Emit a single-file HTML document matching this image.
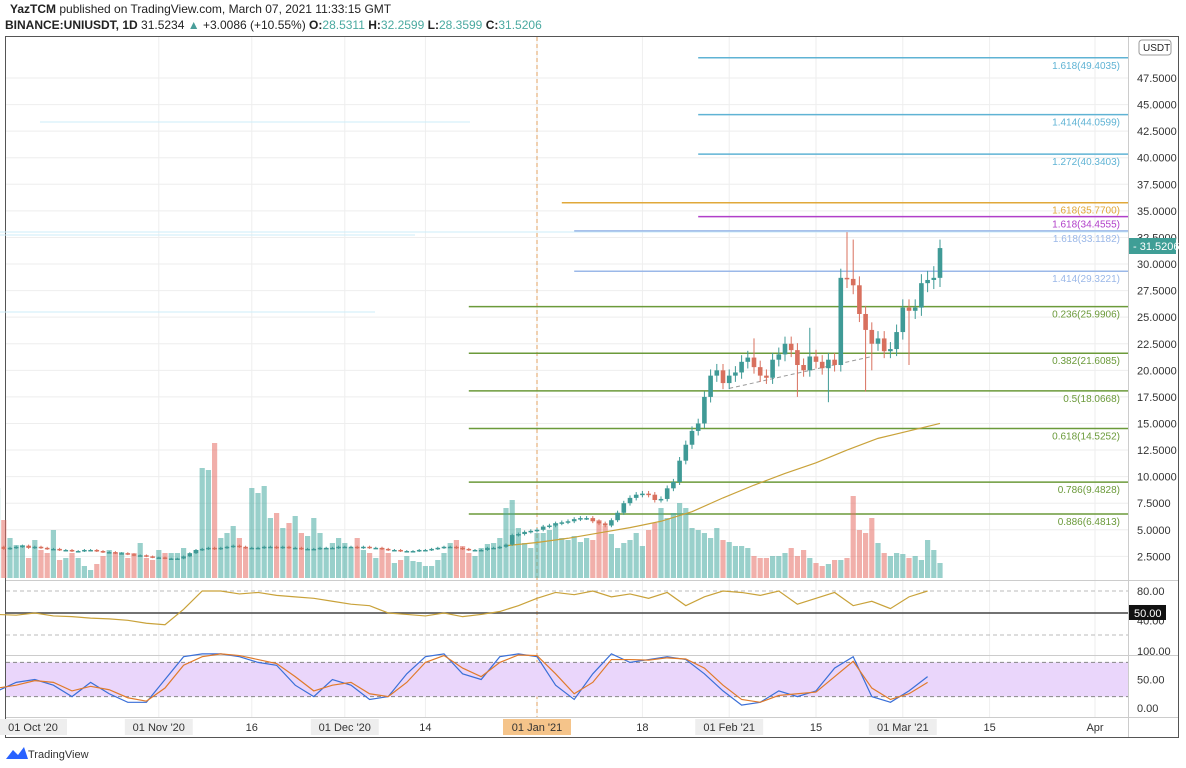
<!DOCTYPE html>
<html><head><meta charset="utf-8"><style>
body{margin:0;background:#fff;width:1186px;height:768px;overflow:hidden;font-family:"Liberation Sans",sans-serif}
svg{position:absolute;left:0;top:0}
</style></head><body>
<svg id="c" width="1186" height="768"></svg>
<script>
// ---- data ----
const closes=[3.4,3.2,3.3,3.4,3.5,3.3,3.4,3.3,3.2,3.2,3.1,3.1,3.0,3.0,3.1,3.1,3.0,2.9,2.9,2.8,2.8,2.7,2.6,2.6,2.5,2.4,
2.4,2.3,2.3,2.3,2.5,2.8,3.1,3.2,3.3,3.2,3.3,3.4,3.5,3.4,3.3,3.3,3.3,3.4,3.4,3.3,3.4,3.3,3.3,3.2,3.2,3.2,3.3,3.3,3.3,3.4,
3.4,3.4,3.3,3.4,3.3,3.3,3.2,3.1,3.1,3.0,3.0,3.0,3.1,3.1,3.2,3.3,3.4,3.4,3.3,3.2,3.1,3.1,3.1,3.3,3.3,3.4,3.6,4.5,4.6,4.8,4.9,
5.0,5.3,5.4,5.6,5.7,5.8,6.0,6.1,6.1,5.8,5.6,5.4,5.9,6.6,7.5,8.0,8.3,8.4,8.3,7.8,7.9,8.9,9.5,11.5,13.0,14.3,15.0,17.5,19.5,20.0,18.8,
19.5,19.8,20.8,21.2,20.3,19.5,19.3,21.0,21.5,22.5,21.9,20.5,20.0,21.3,20.8,20.2,21.0,20.5,28.7,28.6,28.0,25.3,23.8,22.5,23.0,21.8,22.0,23.6,
25.9,25.6,25.9,28.2,28.5,28.7,31.5];
const volumes=[90,58,40,33,33,20,38,28,25,48,18,20,25,20,12,8,14,22,28,25,26,20,25,35,20,18,
28,25,25,25,30,22,28,110,108,135,40,45,52,40,30,90,85,92,60,65,50,55,62,45,42,60,45,30,35,40,
35,30,40,28,25,20,30,25,15,18,22,17,16,12,12,18,25,35,38,32,25,22,30,34,35,40,70,78,50,35,30,
45,45,48,55,40,38,42,36,40,38,58,52,44,30,35,38,45,32,48,55,70,60,65,75,70,50,48,45,40,50,38,
36,32,32,30,22,20,20,22,22,25,30,22,28,20,15,12,14,18,18,20,82,48,45,60,35,25,22,25,
24,20,22,18,38,28,15];
const wickHighIdx=[137,138,122,131,152,151];
const wickHighVal=[33.0,32.3,23.0,24.0,32.3,29.8];
const wickLowIdx=[134,140,141,129,147];
const wickLowVal=[17.0,18.0,20.0,17.5,20.5];
const rsi=[48,47,50,46,45,43,42,40,36,34,55,80,80,76,78,74,72,70,66,62,60,50,48,46,50,45,48,52,60,70,78,75,80,72,76,70,78,60,72,80,78,74,80,62,70,78,60,66,56,72,80];
const stochK=[30,45,50,40,20,45,25,10,10,50,90,95,95,90,80,75,40,20,50,40,15,20,60,90,95,60,50,90,95,90,40,15,60,95,80,85,90,85,60,30,5,10,30,20,30,70,90,20,10,30,55];
const stochD=[35,40,48,45,30,38,32,18,12,35,75,90,95,92,85,78,55,30,40,45,25,20,45,80,92,70,55,80,93,92,60,25,45,85,85,84,88,86,70,40,15,10,22,25,28,55,82,35,15,25,45];
const maVals=[3.5,3.8,4.2,4.7,5.2,5.8,6.7,8.0,9.2,10.3,11.3,12.5,13.6,14.3,15.0];
const priceTicks=[47.5,45,42.5,40,37.5,35,32.5,30,27.5,25,22.5,20,17.5,15,12.5,10,7.5,5,2.5];
const fibVals=[49.4035,44.0599,40.3403,35.77,34.4555,33.1182,29.3221,25.9906,21.6085,18.0668,14.5252,9.4828,6.4813];
const fibLabels=["1.618(49.4035)","1.414(44.0599)","1.272(40.3403)","1.618(35.7700)","1.618(34.4555)","1.618(33.1182)","1.414(29.3221)","0.236(25.9906)","0.382(21.6085)","0.5(18.0668)","0.618(14.5252)","0.786(9.4828)","0.886(6.4813)"];
const fibStartDay=[113,113,113,91,113,93,93,76,76,76,76,76,76];
const fibColors=["#5fb3d4","#5fb3d4","#5fb3d4","#e0a83a","#b03fc9","#9bb8e8","#9bb8e8","#6b9a3a","#6b9a3a","#6b9a3a","#6b9a3a","#6b9a3a","#6b9a3a"];
const timeLabels=["01 Oct '20","01 Nov '20","16","01 Dec '20","14","01 Jan '21","18","01 Feb '21","15","01 Mar '21","15","Apr"];
const timeDays=[-5,26,41,56,69,87,104,118,132,146,160,177];
// ---- axes ----
const X=d=>537+(d-87)*6.2;
const Y=p=>78+(47.5-p)*10.63;
const YR=v=>591+(80-v)*0.733;
const YS=v=>708-v*0.57;
const VB=578, VS=1.0;
const svg=document.getElementById('c');
const NS='http://www.w3.org/2000/svg';
function el(t,a,p){const e=document.createElementNS(NS,t);for(const k in a)e.setAttribute(k,a[k]);(p||svg).appendChild(e);return e;}
let t=el('text',{x:10,y:13,'font-size':12,fill:'#222'});t.innerHTML='<tspan font-weight="bold">YazTCM</tspan> published on TradingView.com, March 07, 2021 11:33:15 GMT';

t=el('text',{x:5,y:29,'font-size':12,fill:'#222'});t.innerHTML='<tspan font-weight="bold">BINANCE:UNIUSDT, 1D</tspan> 31.5234 <tspan fill="#4a9e9a">▲</tspan> +3.0086 (+10.55%) <tspan font-weight="bold">O:</tspan><tspan fill="#4aa9a0">28.5311</tspan> <tspan font-weight="bold">H:</tspan><tspan fill="#4aa9a0">32.2599</tspan> <tspan font-weight="bold">L:</tspan><tspan fill="#4aa9a0">28.3599</tspan> <tspan font-weight="bold">C:</tspan><tspan fill="#4aa9a0">31.5206</tspan>';

el('rect',{x:5.5,y:36.5,width:1173,height:701,fill:'none',stroke:'#555'});
const vg=el('g',{stroke:'#eee'});
timeDays.forEach(d=>{if(X(d)>6)el('line',{x1:X(d),x2:X(d),y1:37,y2:717},vg);});
priceTicks.forEach(p=>el('line',{x1:6,x2:1128,y1:Y(p),y2:Y(p)},vg));
[[40,470,122],[0,415,235],[0,375,312],[0,1128,232]].forEach(a=>el('line',{x1:a[0],x2:a[1],y1:a[2],y2:a[2],stroke:'#cdeefa'}));
el('line',{x1:6,x2:1178,y1:580.5,y2:580.5,stroke:'#ccc'});
el('line',{x1:6,x2:1178,y1:655.5,y2:655.5,stroke:'#ccc'});
el('line',{x1:6,x2:1178,y1:717.5,y2:717.5,stroke:'#ccc'});
el('line',{x1:1128.5,x2:1128.5,y1:37,y2:737,stroke:'#ccc'});
el('line',{x1:537,x2:537,y1:37,y2:717,stroke:'#e0a060','stroke-dasharray':'4,3'});
fibVals.forEach((v,i)=>{
  const l=el('line',{x1:X(fibStartDay[i]),x2:1128,y1:Y(v),y2:Y(v),stroke:fibColors[i],'stroke-width':1.5});
  
  const tx=el('text',{x:1120,y:Y(v)+11,'font-size':10,fill:fibColors[i],'text-anchor':'end'});tx.textContent=fibLabels[i];
  
});
closes.forEach((c,i)=>{
  const o=i?closes[i-1]:c;const h=volumes[i]*VS;
  const r=el('rect',{x:X(i)-2.6,y:VB-h,width:5.2,height:h,fill:c>=o?'rgba(70,170,160,0.55)':'rgba(230,110,100,0.55)'});
  
});
let pts=maVals.map((v,i)=>X(82+i*5)+','+Y(v)).join(' ');
let ma=el('polyline',{points:pts,fill:'none',stroke:'#c9a23a','stroke-width':1.2});

el('line',{x1:X(118),y1:Y(18.3),x2:X(141),y2:Y(21.3),stroke:'#999','stroke-dasharray':'4,3'});
closes.forEach((c,i)=>{
  const o=i?closes[i-1]:c;
  let hi=Math.max(o,c)*1.03,lo=Math.min(o,c)*0.97;
  const hk=wickHighIdx.indexOf(i);if(hk>=0)hi=wickHighVal[hk];
  const lk=wickLowIdx.indexOf(i);if(lk>=0)lo=wickLowVal[lk];
  const col=c>=o?'#3f9a96':'#d8705e';
  const g=el('g',{});
  
  el('line',{x1:X(i),x2:X(i),y1:Y(hi),y2:Y(lo),stroke:col},g);
  const yt=Y(Math.max(o,c)),yb=Y(Math.min(o,c));
  el('rect',{x:X(i)-2.3,y:yt,width:4.6,height:Math.max(1.5,yb-yt),fill:col},g);
});
priceTicks.forEach(p=>{const tx=el('text',{x:1137,y:Y(p)+4,'font-size':11,fill:'#333'});tx.textContent=p.toFixed(4);
});
let u=el('rect',{x:1139,y:40,width:32,height:15,rx:3,fill:'#fff',stroke:'#999'});

t=el('text',{x:1143,y:51,'font-size':10,fill:'#222'});t.textContent='USDT';
el('rect',{x:1129,y:238,width:47,height:16,fill:'#3f9e96'});
t=el('text',{x:1133,y:250,'font-size':11,fill:'#fff'});t.textContent='- 31.5206';

el('line',{x1:6,x2:1128,y1:YR(80),y2:YR(80),stroke:'#bbb','stroke-dasharray':'4,3'});
el('line',{x1:6,x2:1128,y1:YR(20),y2:YR(20),stroke:'#bbb','stroke-dasharray':'4,3'});
el('line',{x1:6,x2:1128,y1:YR(50),y2:YR(50),stroke:'#444','stroke-width':1.5});
let rl=el('polyline',{points:rsi.map((v,i)=>X(i*3)+','+YR(v)).join(' '),fill:'none',stroke:'#c9a23a','stroke-width':1.2});

[[80,'80.00'],[40,'40.00']].forEach(a=>{const tx=el('text',{x:1137,y:YR(a[0])+4,'font-size':11,fill:'#333'});tx.textContent=a[1];});
el('rect',{x:1129,y:YR(50)-8,width:37,height:15,fill:'#111'});
t=el('text',{x:1134,y:YR(50)+4,'font-size':11,fill:'#fff'});t.textContent='50.00';
el('rect',{x:6,y:YS(80),width:1122,height:YS(20)-YS(80),fill:'#ead6fb'});
el('line',{x1:6,x2:1128,y1:YS(80),y2:YS(80),stroke:'#888','stroke-dasharray':'4,3'});
el('line',{x1:6,x2:1128,y1:YS(20),y2:YS(20),stroke:'#888','stroke-dasharray':'4,3'});
let kl=el('polyline',{points:stochK.map((v,i)=>X(i*3)+','+YS(v)).join(' '),fill:'none',stroke:'#3a6fd8','stroke-width':1.2});

let dl=el('polyline',{points:stochD.map((v,i)=>X(i*3)+','+YS(v)).join(' '),fill:'none',stroke:'#e07a2a','stroke-width':1.2});

[[100,'100.00'],[50,'50.00'],[0,'0.00']].forEach(a=>{const tx=el('text',{x:1137,y:YS(a[0])+4,'font-size':11,fill:'#333'});tx.textContent=a[1];});
timeLabels.forEach((s,i)=>{
  let x=X(timeDays[i]);if(i==0)x=33;
  const w=s.length*6+8;
  el('rect',{x:x-w/2,y:719,width:w,height:16,fill:i==5?'#f5c48a':(s.length>3?'#eee':'#fff')});
  const tx=el('text',{x:x,y:731,'font-size':11,fill:'#333','text-anchor':'middle'});tx.textContent=s;
  
});
el('path',{d:'M6 759 l7 -9 l5 5 l6 -8 l4 12 z',fill:'#2962ff'});
t=el('text',{x:28,y:758,'font-size':11,fill:'#333'});t.textContent='TradingView';

</script>
</body></html>
